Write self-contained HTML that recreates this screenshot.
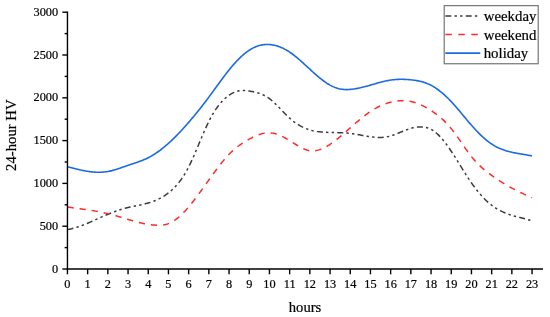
<!DOCTYPE html>
<html><head><meta charset="utf-8"><title>24-hour HV</title>
<style>html,body{margin:0;padding:0;background:#fff}svg{display:block}text{font-family:"Liberation Serif","Times New Roman",serif;fill:#000;stroke:#000;stroke-width:0.2px}</style></head>
<body>
<svg width="550" height="317" viewBox="0 0 550 317">
<rect width="550" height="317" fill="#fff"/>
<path d="M67.45,229.54 L68.46,229.37 L69.47,229.17 L70.48,228.96 L71.49,228.74 L72.50,228.49 L73.51,228.23 L74.52,227.95 L75.53,227.66 L76.54,227.35 L77.55,227.03 L78.56,226.69 L79.57,226.35 L80.58,225.99 L81.59,225.62 L82.60,225.24 L83.61,224.85 L84.62,224.45 L85.63,224.04 L86.64,223.63 L87.65,223.20 L88.66,222.78 L89.67,222.34 L90.68,221.90 L91.69,221.46 L92.70,221.01 L93.71,220.56 L94.72,220.10 L95.73,219.65 L96.74,219.19 L97.75,218.74 L98.76,218.28 L99.77,217.83 L100.78,217.37 L101.79,216.92 L102.80,216.47 L103.81,216.03 L104.82,215.59 L105.83,215.15 L106.84,214.72 L107.85,214.30 L108.86,213.89 L109.87,213.48 L110.88,213.08 L111.89,212.68 L112.90,212.30 L113.91,211.92 L114.92,211.55 L115.93,211.19 L116.94,210.83 L117.95,210.49 L118.96,210.15 L119.97,209.82 L120.98,209.50 L121.99,209.19 L123.00,208.89 L124.01,208.60 L125.02,208.32 L126.03,208.05 L127.04,207.79 L128.05,207.54 L129.06,207.30 L130.07,207.07 L131.08,206.84 L132.09,206.62 L133.10,206.41 L134.11,206.20 L135.12,206.00 L136.13,205.79 L137.14,205.59 L138.15,205.38 L139.16,205.18 L140.17,204.97 L141.18,204.75 L142.19,204.53 L143.20,204.30 L144.21,204.06 L145.22,203.82 L146.23,203.56 L147.24,203.29 L148.25,203.00 L149.26,202.70 L150.27,202.39 L151.28,202.06 L152.29,201.71 L153.30,201.34 L154.31,200.95 L155.32,200.54 L156.33,200.11 L157.34,199.66 L158.35,199.18 L159.36,198.68 L160.37,198.15 L161.38,197.60 L162.39,197.02 L163.40,196.41 L164.41,195.77 L165.42,195.10 L166.43,194.40 L167.44,193.67 L168.45,192.90 L169.46,192.10 L170.47,191.26 L171.48,190.38 L172.49,189.46 L173.50,188.50 L174.51,187.49 L175.52,186.43 L176.53,185.31 L177.54,184.15 L178.55,182.92 L179.56,181.64 L180.57,180.29 L181.58,178.88 L182.59,177.40 L183.60,175.85 L184.61,174.23 L185.62,172.53 L186.63,170.76 L187.64,168.90 L188.65,166.96 L189.66,164.94 L190.67,162.85 L191.68,160.68 L192.69,158.46 L193.70,156.18 L194.71,153.86 L195.72,151.50 L196.73,149.12 L197.74,146.72 L198.75,144.30 L199.76,141.89 L200.77,139.48 L201.78,137.08 L202.79,134.71 L203.80,132.37 L204.81,130.07 L205.82,127.82 L206.83,125.62 L207.84,123.49 L208.85,121.43 L209.86,119.44 L210.87,117.54 L211.88,115.72 L212.89,113.97 L213.90,112.30 L214.91,110.70 L215.92,109.17 L216.93,107.71 L217.94,106.33 L218.95,105.01 L219.96,103.76 L220.97,102.57 L221.98,101.44 L222.99,100.38 L224.00,99.38 L225.01,98.44 L226.02,97.55 L227.03,96.73 L228.04,95.95 L229.05,95.23 L230.06,94.56 L231.07,93.95 L232.08,93.38 L233.09,92.87 L234.10,92.40 L235.11,91.99 L236.12,91.63 L237.13,91.31 L238.14,91.04 L239.15,90.82 L240.16,90.65 L241.17,90.53 L242.18,90.45 L243.19,90.42 L244.20,90.44 L245.21,90.50 L246.22,90.60 L247.23,90.72 L248.24,90.87 L249.25,91.04 L250.26,91.21 L251.27,91.39 L252.28,91.58 L253.29,91.78 L254.30,92.00 L255.31,92.23 L256.32,92.49 L257.33,92.77 L258.34,93.07 L259.35,93.40 L260.36,93.75 L261.37,94.14 L262.38,94.56 L263.39,95.02 L264.40,95.52 L265.41,96.06 L266.42,96.64 L267.43,97.26 L268.44,97.93 L269.45,98.66 L270.46,99.43 L271.47,100.25 L272.48,101.12 L273.49,102.02 L274.50,102.96 L275.51,103.93 L276.52,104.92 L277.53,105.94 L278.54,106.97 L279.55,108.01 L280.56,109.07 L281.57,110.12 L282.58,111.18 L283.59,112.23 L284.60,113.27 L285.61,114.29 L286.62,115.30 L287.63,116.29 L288.64,117.25 L289.65,118.17 L290.66,119.06 L291.67,119.92 L292.68,120.74 L293.69,121.53 L294.70,122.28 L295.71,123.00 L296.72,123.68 L297.73,124.34 L298.74,124.96 L299.75,125.55 L300.76,126.12 L301.77,126.65 L302.78,127.15 L303.79,127.62 L304.80,128.07 L305.81,128.49 L306.82,128.88 L307.83,129.25 L308.84,129.59 L309.85,129.90 L310.86,130.19 L311.87,130.46 L312.88,130.70 L313.89,130.92 L314.90,131.13 L315.91,131.31 L316.92,131.48 L317.93,131.62 L318.94,131.76 L319.95,131.87 L320.96,131.98 L321.97,132.07 L322.98,132.15 L323.99,132.22 L325.00,132.28 L326.01,132.33 L327.02,132.37 L328.03,132.41 L329.04,132.44 L330.05,132.47 L331.06,132.49 L332.07,132.52 L333.08,132.54 L334.09,132.56 L335.10,132.58 L336.11,132.60 L337.12,132.62 L338.13,132.65 L339.14,132.68 L340.15,132.71 L341.16,132.75 L342.17,132.79 L343.18,132.84 L344.19,132.89 L345.20,132.95 L346.21,133.03 L347.22,133.11 L348.23,133.20 L349.24,133.30 L350.25,133.41 L351.26,133.53 L352.27,133.67 L353.28,133.81 L354.29,133.97 L355.30,134.13 L356.31,134.30 L357.32,134.47 L358.33,134.65 L359.34,134.84 L360.35,135.02 L361.36,135.21 L362.37,135.39 L363.38,135.58 L364.39,135.76 L365.40,135.94 L366.41,136.11 L367.42,136.28 L368.43,136.45 L369.44,136.60 L370.45,136.75 L371.46,136.88 L372.47,137.01 L373.48,137.12 L374.49,137.22 L375.50,137.30 L376.51,137.37 L377.52,137.42 L378.53,137.44 L379.54,137.45 L380.55,137.43 L381.56,137.39 L382.57,137.33 L383.58,137.24 L384.59,137.12 L385.60,136.98 L386.61,136.82 L387.62,136.63 L388.63,136.41 L389.64,136.16 L390.65,135.89 L391.66,135.59 L392.67,135.27 L393.68,134.93 L394.69,134.57 L395.70,134.19 L396.71,133.79 L397.72,133.39 L398.73,132.98 L399.74,132.56 L400.75,132.14 L401.76,131.72 L402.77,131.30 L403.78,130.89 L404.79,130.48 L405.80,130.08 L406.81,129.70 L407.82,129.34 L408.83,128.99 L409.84,128.66 L410.85,128.36 L411.86,128.08 L412.87,127.83 L413.88,127.61 L414.89,127.42 L415.90,127.26 L416.91,127.12 L417.92,127.02 L418.93,126.95 L419.94,126.91 L420.95,126.90 L421.96,126.93 L422.97,127.00 L423.98,127.10 L424.99,127.25 L426.00,127.45 L427.01,127.70 L428.02,128.01 L429.03,128.37 L430.04,128.80 L431.05,129.30 L432.06,129.87 L433.07,130.50 L434.08,131.21 L435.09,131.97 L436.10,132.80 L437.11,133.69 L438.12,134.64 L439.13,135.64 L440.14,136.70 L441.15,137.80 L442.16,138.96 L443.17,140.16 L444.18,141.41 L445.19,142.70 L446.20,144.03 L447.21,145.40 L448.22,146.81 L449.23,148.25 L450.24,149.72 L451.25,151.21 L452.26,152.74 L453.27,154.29 L454.28,155.86 L455.29,157.45 L456.30,159.06 L457.31,160.67 L458.32,162.30 L459.33,163.93 L460.34,165.56 L461.35,167.20 L462.36,168.83 L463.37,170.46 L464.38,172.07 L465.39,173.68 L466.40,175.27 L467.41,176.84 L468.42,178.39 L469.43,179.92 L470.44,181.42 L471.45,182.89 L472.46,184.32 L473.47,185.73 L474.48,187.10 L475.49,188.43 L476.50,189.74 L477.51,191.01 L478.52,192.25 L479.53,193.45 L480.54,194.62 L481.55,195.75 L482.56,196.85 L483.57,197.92 L484.58,198.96 L485.59,199.95 L486.60,200.92 L487.61,201.85 L488.62,202.75 L489.63,203.61 L490.64,204.44 L491.65,205.23 L492.66,205.99 L493.67,206.71 L494.68,207.40 L495.69,208.06 L496.70,208.69 L497.71,209.30 L498.72,209.87 L499.73,210.42 L500.74,210.94 L501.75,211.44 L502.76,211.91 L503.77,212.36 L504.78,212.79 L505.79,213.21 L506.80,213.60 L507.81,213.98 L508.82,214.34 L509.83,214.68 L510.84,215.01 L511.85,215.33 L512.86,215.64 L513.87,215.93 L514.88,216.22 L515.89,216.50 L516.90,216.77 L517.91,217.04 L518.92,217.30 L519.93,217.56 L520.94,217.81 L521.95,218.07 L522.96,218.32 L523.97,218.58 L524.98,218.84 L525.99,219.10 L527.00,219.36 L528.01,219.64 L529.02,219.92 L530.03,220.20 L531.04,220.50 L532.05,220.81" fill="none" stroke="#3c3c3c" stroke-width="1.5" stroke-dasharray="6 3.2 2.4 3.2 2.4 3.2"/>
<path d="M67.45,207.03 L68.46,207.18 L69.47,207.32 L70.48,207.47 L71.49,207.61 L72.50,207.76 L73.51,207.90 L74.52,208.04 L75.53,208.17 L76.54,208.31 L77.55,208.45 L78.56,208.59 L79.57,208.72 L80.58,208.86 L81.59,209.00 L82.60,209.14 L83.61,209.28 L84.62,209.42 L85.63,209.56 L86.64,209.70 L87.65,209.85 L88.66,210.00 L89.67,210.15 L90.68,210.30 L91.69,210.46 L92.70,210.62 L93.71,210.79 L94.72,210.96 L95.73,211.13 L96.74,211.31 L97.75,211.49 L98.76,211.67 L99.77,211.87 L100.78,212.06 L101.79,212.27 L102.80,212.47 L103.81,212.69 L104.82,212.91 L105.83,213.14 L106.84,213.37 L107.85,213.62 L108.86,213.87 L109.87,214.12 L110.88,214.39 L111.89,214.66 L112.90,214.93 L113.91,215.21 L114.92,215.50 L115.93,215.79 L116.94,216.08 L117.95,216.38 L118.96,216.68 L119.97,216.98 L120.98,217.29 L121.99,217.59 L123.00,217.90 L124.01,218.21 L125.02,218.52 L126.03,218.82 L127.04,219.13 L128.05,219.44 L129.06,219.74 L130.07,220.04 L131.08,220.34 L132.09,220.64 L133.10,220.93 L134.11,221.22 L135.12,221.50 L136.13,221.78 L137.14,222.05 L138.15,222.31 L139.16,222.56 L140.17,222.81 L141.18,223.05 L142.19,223.27 L143.20,223.49 L144.21,223.70 L145.22,223.89 L146.23,224.08 L147.24,224.25 L148.25,224.40 L149.26,224.55 L150.27,224.67 L151.28,224.79 L152.29,224.89 L153.30,224.98 L154.31,225.05 L155.32,225.10 L156.33,225.15 L157.34,225.17 L158.35,225.18 L159.36,225.18 L160.37,225.15 L161.38,225.09 L162.39,225.00 L163.40,224.88 L164.41,224.72 L165.42,224.52 L166.43,224.27 L167.44,223.98 L168.45,223.63 L169.46,223.23 L170.47,222.77 L171.48,222.26 L172.49,221.70 L173.50,221.08 L174.51,220.42 L175.52,219.71 L176.53,218.96 L177.54,218.16 L178.55,217.32 L179.56,216.44 L180.57,215.52 L181.58,214.56 L182.59,213.57 L183.60,212.54 L184.61,211.48 L185.62,210.39 L186.63,209.27 L187.64,208.12 L188.65,206.94 L189.66,205.74 L190.67,204.51 L191.68,203.27 L192.69,202.00 L193.70,200.71 L194.71,199.41 L195.72,198.08 L196.73,196.75 L197.74,195.39 L198.75,194.03 L199.76,192.65 L200.77,191.27 L201.78,189.87 L202.79,188.47 L203.80,187.06 L204.81,185.65 L205.82,184.23 L206.83,182.81 L207.84,181.39 L208.85,179.98 L209.86,178.56 L210.87,177.15 L211.88,175.74 L212.89,174.34 L213.90,172.95 L214.91,171.57 L215.92,170.20 L216.93,168.85 L217.94,167.51 L218.95,166.19 L219.96,164.88 L220.97,163.60 L221.98,162.34 L222.99,161.11 L224.00,159.90 L225.01,158.72 L226.02,157.56 L227.03,156.44 L228.04,155.35 L229.05,154.30 L230.06,153.28 L231.07,152.29 L232.08,151.34 L233.09,150.42 L234.10,149.53 L235.11,148.67 L236.12,147.84 L237.13,147.04 L238.14,146.27 L239.15,145.52 L240.16,144.79 L241.17,144.09 L242.18,143.41 L243.19,142.74 L244.20,142.10 L245.21,141.48 L246.22,140.87 L247.23,140.28 L248.24,139.71 L249.25,139.14 L250.26,138.60 L251.27,138.06 L252.28,137.54 L253.29,137.04 L254.30,136.56 L255.31,136.09 L256.32,135.65 L257.33,135.24 L258.34,134.85 L259.35,134.49 L260.36,134.16 L261.37,133.86 L262.38,133.60 L263.39,133.36 L264.40,133.17 L265.41,133.01 L266.42,132.90 L267.43,132.83 L268.44,132.80 L269.45,132.81 L270.46,132.87 L271.47,132.98 L272.48,133.13 L273.49,133.32 L274.50,133.56 L275.51,133.83 L276.52,134.13 L277.53,134.47 L278.54,134.85 L279.55,135.25 L280.56,135.69 L281.57,136.15 L282.58,136.63 L283.59,137.14 L284.60,137.68 L285.61,138.23 L286.62,138.80 L287.63,139.38 L288.64,139.99 L289.65,140.60 L290.66,141.22 L291.67,141.86 L292.68,142.49 L293.69,143.13 L294.70,143.76 L295.71,144.39 L296.72,145.01 L297.73,145.62 L298.74,146.20 L299.75,146.77 L300.76,147.32 L301.77,147.84 L302.78,148.33 L303.79,148.78 L304.80,149.20 L305.81,149.58 L306.82,149.91 L307.83,150.20 L308.84,150.43 L309.85,150.62 L310.86,150.74 L311.87,150.81 L312.88,150.82 L313.89,150.79 L314.90,150.70 L315.91,150.56 L316.92,150.37 L317.93,150.14 L318.94,149.86 L319.95,149.54 L320.96,149.18 L321.97,148.78 L322.98,148.35 L323.99,147.87 L325.00,147.37 L326.01,146.82 L327.02,146.25 L328.03,145.65 L329.04,145.02 L330.05,144.37 L331.06,143.69 L332.07,142.98 L333.08,142.26 L334.09,141.51 L335.10,140.75 L336.11,139.96 L337.12,139.16 L338.13,138.35 L339.14,137.52 L340.15,136.68 L341.16,135.82 L342.17,134.96 L343.18,134.09 L344.19,133.21 L345.20,132.32 L346.21,131.43 L347.22,130.54 L348.23,129.64 L349.24,128.74 L350.25,127.85 L351.26,126.95 L352.27,126.06 L353.28,125.17 L354.29,124.28 L355.30,123.40 L356.31,122.53 L357.32,121.66 L358.33,120.81 L359.34,119.96 L360.35,119.12 L361.36,118.29 L362.37,117.48 L363.38,116.67 L364.39,115.88 L365.40,115.11 L366.41,114.35 L367.42,113.61 L368.43,112.89 L369.44,112.18 L370.45,111.50 L371.46,110.83 L372.47,110.19 L373.48,109.56 L374.49,108.96 L375.50,108.37 L376.51,107.81 L377.52,107.27 L378.53,106.75 L379.54,106.25 L380.55,105.77 L381.56,105.32 L382.57,104.88 L383.58,104.47 L384.59,104.07 L385.60,103.70 L386.61,103.35 L387.62,103.02 L388.63,102.71 L389.64,102.43 L390.65,102.17 L391.66,101.92 L392.67,101.70 L393.68,101.51 L394.69,101.33 L395.70,101.17 L396.71,101.04 L397.72,100.92 L398.73,100.83 L399.74,100.76 L400.75,100.71 L401.76,100.68 L402.77,100.67 L403.78,100.69 L404.79,100.72 L405.80,100.78 L406.81,100.87 L407.82,100.98 L408.83,101.12 L409.84,101.29 L410.85,101.48 L411.86,101.70 L412.87,101.95 L413.88,102.23 L414.89,102.54 L415.90,102.87 L416.91,103.23 L417.92,103.61 L418.93,104.02 L419.94,104.45 L420.95,104.91 L421.96,105.38 L422.97,105.88 L423.98,106.40 L424.99,106.94 L426.00,107.49 L427.01,108.07 L428.02,108.67 L429.03,109.28 L430.04,109.91 L431.05,110.55 L432.06,111.22 L433.07,111.89 L434.08,112.59 L435.09,113.31 L436.10,114.04 L437.11,114.80 L438.12,115.59 L439.13,116.40 L440.14,117.23 L441.15,118.10 L442.16,118.99 L443.17,119.92 L444.18,120.88 L445.19,121.87 L446.20,122.90 L447.21,123.96 L448.22,125.06 L449.23,126.21 L450.24,127.39 L451.25,128.62 L452.26,129.89 L453.27,131.19 L454.28,132.54 L455.29,133.92 L456.30,135.32 L457.31,136.74 L458.32,138.19 L459.33,139.64 L460.34,141.11 L461.35,142.58 L462.36,144.05 L463.37,145.52 L464.38,146.98 L465.39,148.43 L466.40,149.86 L467.41,151.27 L468.42,152.65 L469.43,154.00 L470.44,155.33 L471.45,156.61 L472.46,157.85 L473.47,159.05 L474.48,160.21 L475.49,161.33 L476.50,162.41 L477.51,163.46 L478.52,164.48 L479.53,165.47 L480.54,166.42 L481.55,167.35 L482.56,168.25 L483.57,169.13 L484.58,169.98 L485.59,170.82 L486.60,171.63 L487.61,172.42 L488.62,173.20 L489.63,173.96 L490.64,174.70 L491.65,175.44 L492.66,176.16 L493.67,176.88 L494.68,177.58 L495.69,178.27 L496.70,178.96 L497.71,179.63 L498.72,180.30 L499.73,180.95 L500.74,181.60 L501.75,182.23 L502.76,182.86 L503.77,183.48 L504.78,184.09 L505.79,184.69 L506.80,185.28 L507.81,185.86 L508.82,186.43 L509.83,187.00 L510.84,187.56 L511.85,188.11 L512.86,188.65 L513.87,189.18 L514.88,189.71 L515.89,190.23 L516.90,190.74 L517.91,191.25 L518.92,191.74 L519.93,192.23 L520.94,192.72 L521.95,193.19 L522.96,193.66 L523.97,194.12 L524.98,194.58 L525.99,195.03 L527.00,195.48 L528.01,195.91 L529.02,196.35 L530.03,196.77 L531.04,197.19 L532.05,197.61" fill="none" stroke="#ff2a2a" stroke-width="1.5" stroke-dasharray="6.3 5.9"/>
<path d="M67.45,166.71 L68.46,166.98 L69.47,167.24 L70.48,167.51 L71.49,167.77 L72.50,168.03 L73.51,168.29 L74.52,168.55 L75.53,168.80 L76.54,169.05 L77.55,169.29 L78.56,169.53 L79.57,169.76 L80.58,169.99 L81.59,170.21 L82.60,170.42 L83.61,170.62 L84.62,170.81 L85.63,170.99 L86.64,171.17 L87.65,171.33 L88.66,171.48 L89.67,171.62 L90.68,171.75 L91.69,171.87 L92.70,171.97 L93.71,172.05 L94.72,172.13 L95.73,172.19 L96.74,172.23 L97.75,172.25 L98.76,172.26 L99.77,172.26 L100.78,172.23 L101.79,172.19 L102.80,172.12 L103.81,172.04 L104.82,171.94 L105.83,171.81 L106.84,171.67 L107.85,171.50 L108.86,171.31 L109.87,171.10 L110.88,170.87 L111.89,170.63 L112.90,170.36 L113.91,170.08 L114.92,169.79 L115.93,169.48 L116.94,169.16 L117.95,168.84 L118.96,168.50 L119.97,168.16 L120.98,167.81 L121.99,167.46 L123.00,167.10 L124.01,166.75 L125.02,166.39 L126.03,166.04 L127.04,165.69 L128.05,165.34 L129.06,165.00 L130.07,164.66 L131.08,164.33 L132.09,163.99 L133.10,163.66 L134.11,163.33 L135.12,162.99 L136.13,162.65 L137.14,162.30 L138.15,161.95 L139.16,161.59 L140.17,161.22 L141.18,160.83 L142.19,160.44 L143.20,160.03 L144.21,159.60 L145.22,159.16 L146.23,158.70 L147.24,158.22 L148.25,157.72 L149.26,157.20 L150.27,156.65 L151.28,156.08 L152.29,155.49 L153.30,154.88 L154.31,154.25 L155.32,153.60 L156.33,152.92 L157.34,152.23 L158.35,151.51 L159.36,150.78 L160.37,150.03 L161.38,149.25 L162.39,148.46 L163.40,147.65 L164.41,146.83 L165.42,145.98 L166.43,145.12 L167.44,144.24 L168.45,143.34 L169.46,142.43 L170.47,141.49 L171.48,140.55 L172.49,139.59 L173.50,138.61 L174.51,137.62 L175.52,136.61 L176.53,135.59 L177.54,134.55 L178.55,133.51 L179.56,132.45 L180.57,131.37 L181.58,130.29 L182.59,129.19 L183.60,128.08 L184.61,126.96 L185.62,125.82 L186.63,124.68 L187.64,123.53 L188.65,122.37 L189.66,121.20 L190.67,120.01 L191.68,118.82 L192.69,117.62 L193.70,116.41 L194.71,115.19 L195.72,113.96 L196.73,112.73 L197.74,111.48 L198.75,110.22 L199.76,108.95 L200.77,107.68 L201.78,106.39 L202.79,105.09 L203.80,103.79 L204.81,102.47 L205.82,101.15 L206.83,99.81 L207.84,98.47 L208.85,97.12 L209.86,95.75 L210.87,94.38 L211.88,93.00 L212.89,91.62 L213.90,90.23 L214.91,88.84 L215.92,87.45 L216.93,86.06 L217.94,84.67 L218.95,83.29 L219.96,81.91 L220.97,80.53 L221.98,79.17 L222.99,77.82 L224.00,76.47 L225.01,75.14 L226.02,73.83 L227.03,72.53 L228.04,71.24 L229.05,69.98 L230.06,68.74 L231.07,67.51 L232.08,66.31 L233.09,65.13 L234.10,63.98 L235.11,62.85 L236.12,61.75 L237.13,60.67 L238.14,59.62 L239.15,58.61 L240.16,57.62 L241.17,56.66 L242.18,55.73 L243.19,54.84 L244.20,53.97 L245.21,53.15 L246.22,52.36 L247.23,51.60 L248.24,50.89 L249.25,50.21 L250.26,49.57 L251.27,48.97 L252.28,48.40 L253.29,47.88 L254.30,47.40 L255.31,46.95 L256.32,46.54 L257.33,46.17 L258.34,45.83 L259.35,45.54 L260.36,45.28 L261.37,45.05 L262.38,44.87 L263.39,44.72 L264.40,44.60 L265.41,44.52 L266.42,44.48 L267.43,44.47 L268.44,44.50 L269.45,44.56 L270.46,44.65 L271.47,44.77 L272.48,44.92 L273.49,45.10 L274.50,45.31 L275.51,45.56 L276.52,45.83 L277.53,46.13 L278.54,46.46 L279.55,46.83 L280.56,47.22 L281.57,47.64 L282.58,48.10 L283.59,48.58 L284.60,49.09 L285.61,49.63 L286.62,50.20 L287.63,50.80 L288.64,51.43 L289.65,52.09 L290.66,52.78 L291.67,53.49 L292.68,54.23 L293.69,54.99 L294.70,55.78 L295.71,56.59 L296.72,57.42 L297.73,58.26 L298.74,59.12 L299.75,60.00 L300.76,60.89 L301.77,61.79 L302.78,62.70 L303.79,63.62 L304.80,64.54 L305.81,65.47 L306.82,66.40 L307.83,67.34 L308.84,68.28 L309.85,69.21 L310.86,70.14 L311.87,71.07 L312.88,71.99 L313.89,72.90 L314.90,73.81 L315.91,74.70 L316.92,75.58 L317.93,76.44 L318.94,77.29 L319.95,78.13 L320.96,78.94 L321.97,79.73 L322.98,80.50 L323.99,81.25 L325.00,81.97 L326.01,82.66 L327.02,83.33 L328.03,83.96 L329.04,84.56 L330.05,85.13 L331.06,85.66 L332.07,86.16 L333.08,86.63 L334.09,87.06 L335.10,87.45 L336.11,87.81 L337.12,88.14 L338.13,88.43 L339.14,88.69 L340.15,88.91 L341.16,89.11 L342.17,89.27 L343.18,89.39 L344.19,89.49 L345.20,89.55 L346.21,89.58 L347.22,89.58 L348.23,89.55 L349.24,89.49 L350.25,89.41 L351.26,89.31 L352.27,89.20 L353.28,89.07 L354.29,88.92 L355.30,88.76 L356.31,88.59 L357.32,88.40 L358.33,88.20 L359.34,87.99 L360.35,87.77 L361.36,87.54 L362.37,87.30 L363.38,87.05 L364.39,86.79 L365.40,86.53 L366.41,86.26 L367.42,85.98 L368.43,85.70 L369.44,85.42 L370.45,85.13 L371.46,84.84 L372.47,84.55 L373.48,84.26 L374.49,83.96 L375.50,83.67 L376.51,83.38 L377.52,83.10 L378.53,82.81 L379.54,82.54 L380.55,82.26 L381.56,82.00 L382.57,81.74 L383.58,81.49 L384.59,81.26 L385.60,81.03 L386.61,80.81 L387.62,80.61 L388.63,80.42 L389.64,80.24 L390.65,80.08 L391.66,79.94 L392.67,79.81 L393.68,79.69 L394.69,79.60 L395.70,79.51 L396.71,79.44 L397.72,79.39 L398.73,79.35 L399.74,79.32 L400.75,79.31 L401.76,79.31 L402.77,79.32 L403.78,79.35 L404.79,79.38 L405.80,79.43 L406.81,79.49 L407.82,79.56 L408.83,79.64 L409.84,79.73 L410.85,79.82 L411.86,79.93 L412.87,80.05 L413.88,80.18 L414.89,80.32 L415.90,80.48 L416.91,80.65 L417.92,80.84 L418.93,81.05 L419.94,81.27 L420.95,81.51 L421.96,81.78 L422.97,82.06 L423.98,82.38 L424.99,82.71 L426.00,83.07 L427.01,83.46 L428.02,83.87 L429.03,84.32 L430.04,84.80 L431.05,85.30 L432.06,85.84 L433.07,86.41 L434.08,87.02 L435.09,87.65 L436.10,88.32 L437.11,89.02 L438.12,89.74 L439.13,90.50 L440.14,91.28 L441.15,92.09 L442.16,92.93 L443.17,93.80 L444.18,94.69 L445.19,95.61 L446.20,96.56 L447.21,97.53 L448.22,98.52 L449.23,99.54 L450.24,100.59 L451.25,101.65 L452.26,102.74 L453.27,103.85 L454.28,104.98 L455.29,106.12 L456.30,107.28 L457.31,108.45 L458.32,109.63 L459.33,110.83 L460.34,112.03 L461.35,113.23 L462.36,114.44 L463.37,115.66 L464.38,116.87 L465.39,118.08 L466.40,119.28 L467.41,120.48 L468.42,121.68 L469.43,122.86 L470.44,124.03 L471.45,125.19 L472.46,126.34 L473.47,127.47 L474.48,128.58 L475.49,129.67 L476.50,130.75 L477.51,131.80 L478.52,132.84 L479.53,133.85 L480.54,134.85 L481.55,135.81 L482.56,136.76 L483.57,137.68 L484.58,138.57 L485.59,139.44 L486.60,140.28 L487.61,141.09 L488.62,141.87 L489.63,142.62 L490.64,143.34 L491.65,144.02 L492.66,144.68 L493.67,145.30 L494.68,145.89 L495.69,146.45 L496.70,146.98 L497.71,147.48 L498.72,147.96 L499.73,148.41 L500.74,148.84 L501.75,149.24 L502.76,149.62 L503.77,149.98 L504.78,150.33 L505.79,150.65 L506.80,150.95 L507.81,151.24 L508.82,151.51 L509.83,151.77 L510.84,152.01 L511.85,152.24 L512.86,152.46 L513.87,152.67 L514.88,152.87 L515.89,153.07 L516.90,153.25 L517.91,153.44 L518.92,153.61 L519.93,153.79 L520.94,153.96 L521.95,154.13 L522.96,154.30 L523.97,154.47 L524.98,154.64 L525.99,154.82 L527.00,155.00 L528.01,155.19 L529.02,155.38 L530.03,155.58 L531.04,155.79 L532.05,156.01" fill="none" stroke="#1c6ae4" stroke-width="1.6"/>
<g stroke="#000" stroke-width="1.4" fill="none">
<path d="M67.45,11.50 V269.70"/>
<path d="M66.75,269.0 H543"/>
<path d="M62.35,269.00 H67.45"/>
<path d="M64.65,247.60 H67.45"/>
<path d="M62.35,226.20 H67.45"/>
<path d="M64.65,204.80 H67.45"/>
<path d="M62.35,183.40 H67.45"/>
<path d="M64.65,162.00 H67.45"/>
<path d="M62.35,140.60 H67.45"/>
<path d="M64.65,119.20 H67.45"/>
<path d="M62.35,97.80 H67.45"/>
<path d="M64.65,76.40 H67.45"/>
<path d="M62.35,55.00 H67.45"/>
<path d="M64.65,33.60 H67.45"/>
<path d="M62.35,12.20 H67.45"/>
<path d="M67.45,269.0 V274.3"/>
<path d="M87.65,269.0 V274.3"/>
<path d="M107.85,269.0 V274.3"/>
<path d="M128.05,269.0 V274.3"/>
<path d="M148.25,269.0 V274.3"/>
<path d="M168.45,269.0 V274.3"/>
<path d="M188.65,269.0 V274.3"/>
<path d="M208.85,269.0 V274.3"/>
<path d="M229.05,269.0 V274.3"/>
<path d="M249.25,269.0 V274.3"/>
<path d="M269.45,269.0 V274.3"/>
<path d="M289.65,269.0 V274.3"/>
<path d="M309.85,269.0 V274.3"/>
<path d="M330.05,269.0 V274.3"/>
<path d="M350.25,269.0 V274.3"/>
<path d="M370.45,269.0 V274.3"/>
<path d="M390.65,269.0 V274.3"/>
<path d="M410.85,269.0 V274.3"/>
<path d="M431.05,269.0 V274.3"/>
<path d="M451.25,269.0 V274.3"/>
<path d="M471.45,269.0 V274.3"/>
<path d="M491.65,269.0 V274.3"/>
<path d="M511.85,269.0 V274.3"/>
<path d="M532.05,269.0 V274.3"/>
</g>
<g font-size="12.3">
<text x="58.15" y="272.60" text-anchor="end">0</text>
<text x="58.15" y="229.80" text-anchor="end">500</text>
<text x="58.15" y="187.00" text-anchor="end">1000</text>
<text x="58.15" y="144.20" text-anchor="end">1500</text>
<text x="58.15" y="101.40" text-anchor="end">2000</text>
<text x="58.15" y="58.60" text-anchor="end">2500</text>
<text x="58.15" y="15.80" text-anchor="end">3000</text>
<text x="67.45" y="288.2" text-anchor="middle">0</text>
<text x="87.65" y="288.2" text-anchor="middle">1</text>
<text x="107.85" y="288.2" text-anchor="middle">2</text>
<text x="128.05" y="288.2" text-anchor="middle">3</text>
<text x="148.25" y="288.2" text-anchor="middle">4</text>
<text x="168.45" y="288.2" text-anchor="middle">5</text>
<text x="188.65" y="288.2" text-anchor="middle">6</text>
<text x="208.85" y="288.2" text-anchor="middle">7</text>
<text x="229.05" y="288.2" text-anchor="middle">8</text>
<text x="249.25" y="288.2" text-anchor="middle">9</text>
<text x="269.45" y="288.2" text-anchor="middle">10</text>
<text x="289.65" y="288.2" text-anchor="middle">11</text>
<text x="309.85" y="288.2" text-anchor="middle">12</text>
<text x="330.05" y="288.2" text-anchor="middle">13</text>
<text x="350.25" y="288.2" text-anchor="middle">14</text>
<text x="370.45" y="288.2" text-anchor="middle">15</text>
<text x="390.65" y="288.2" text-anchor="middle">16</text>
<text x="410.85" y="288.2" text-anchor="middle">17</text>
<text x="431.05" y="288.2" text-anchor="middle">18</text>
<text x="451.25" y="288.2" text-anchor="middle">19</text>
<text x="471.45" y="288.2" text-anchor="middle">20</text>
<text x="491.65" y="288.2" text-anchor="middle">21</text>
<text x="511.85" y="288.2" text-anchor="middle">22</text>
<text x="532.05" y="288.2" text-anchor="middle">23</text>
</g>
<g font-size="14.85">
<text x="305" y="311.5" text-anchor="middle" font-size="14.6">hours</text>
<text transform="translate(15.6,135.2) rotate(-90)" text-anchor="middle" font-size="14.7">24-hour HV</text>
<rect x="444.2" y="5.65" width="94" height="58.1" fill="#fff" stroke="#707070" stroke-width="1.15"/>
<path d="M445.3,16.1 H478" fill="none" stroke="#3c3c3c" stroke-width="1.5" stroke-dasharray="6 3.2 2.4 3.2 2.4 3.2"/>
<path d="M445.3,34.55 H480.3" fill="none" stroke="#ff2a2a" stroke-width="1.45" stroke-dasharray="6.5 6.5"/>
<path d="M445.3,53.1 H480.3" fill="none" stroke="#1c6ae4" stroke-width="1.6"/>
<text x="483.7" y="21">weekday</text>
<text x="483.7" y="39.5">weekend</text>
<text x="483.7" y="58">holiday</text>
</g>
</svg>
</body></html>
